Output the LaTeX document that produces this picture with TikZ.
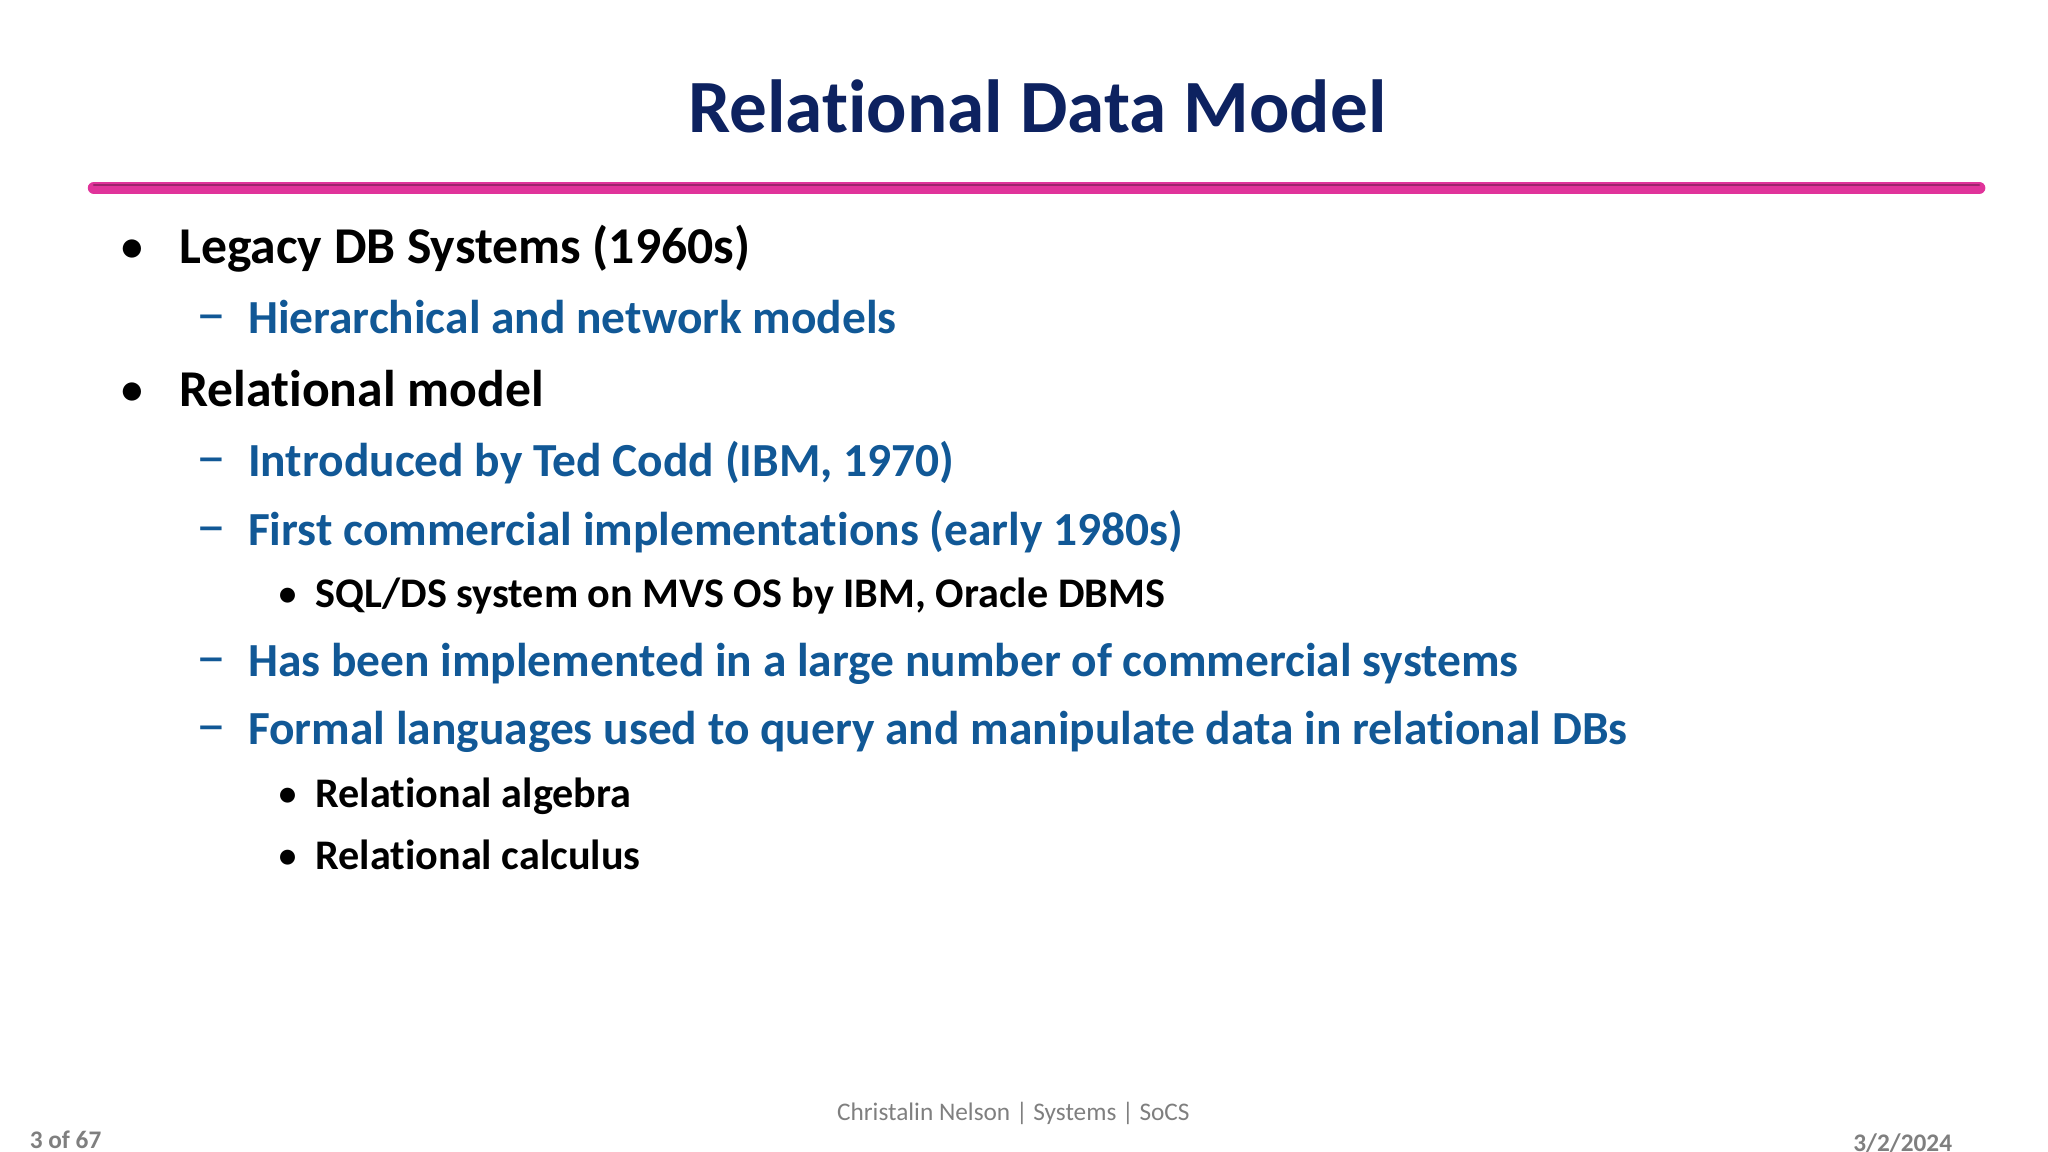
\documentclass[tikz,border=0pt]{standalone}
\usepackage{fontspec}
\setmainfont[RawFeature=-liga]{Carlito}
\definecolor{navy}{HTML}{0D2260}
\definecolor{lblue}{HTML}{115896}
\definecolor{pinkl}{HTML}{E0339A}
\definecolor{foot}{HTML}{7F7F7F}
\begin{document}
\begin{tikzpicture}[x=0.01323cm,y=-0.01323cm,
  lone/.style={anchor=base west,font=\fontsize{14.7}{18}\selectfont\bfseries,text=black,inner sep=0},
  bul/.style={anchor=base west,font=\fontsize{14.7}{18}\selectfont,text=black,inner sep=0},
  ltwo/.style={anchor=base west,font=\fontsize{13.5}{18}\selectfont\bfseries,text=lblue,inner sep=0},
  dsh/.style={anchor=base west,font=\fontsize{17}{18}\selectfont,text=lblue,inner sep=0},
  lthree/.style={anchor=base west,font=\fontsize{12}{14}\selectfont\bfseries,text=black,inner sep=0},
  bulthree/.style={anchor=base west,font=\fontsize{12}{14}\selectfont,text=black,inner sep=0},
  ftxt/.style={anchor=base,font=\fontsize{7.2}{9}\selectfont,text=foot,inner sep=0}]
\useasboundingbox (0,0) rectangle (1548,870.7);
\node[anchor=base,font=\fontsize{21.4}{26}\selectfont\bfseries,text=navy,inner sep=0] (title) at (784,100) {Relational Data Model};
\draw[line width=3.5pt,pinkl,line cap=round] (71,142) -- (1496,142);
\draw[line width=0.6pt,pinkl!70!black,line cap=round] (71,139.5) -- (1496,139.5);
\node[bul] (b1) at (90,199) {•};
\node[lone] (t1) at (135,199) {Legacy DB Systems (1960s)};
\node[dsh] (d1) at (148,252) {–};
\node[ltwo] (t2) at (187,252) {Hierarchical and network models};
\node[bul] (b2) at (90,307) {•};
\node[lone] (t3) at (135,307) {Relational model};
\node[dsh] (d2) at (148,360) {–};
\node[ltwo] (t4) at (187,360) {Introduced by Ted Codd (IBM, 1970)};
\node[dsh] (d3) at (148,412) {–};
\node[ltwo] (t5) at (187,412) {First commercial implementations (early 1980s)};
\node[bulthree] (b3) at (209,459) {•};
\node[lthree] (t6) at (238,459) {SQL/DS system on MVS OS by IBM, Oracle DBMS};
\node[dsh] (d4) at (148,511) {–};
\node[ltwo] (t7) at (187,511) {Has been implemented in a large number of commercial systems};
\node[dsh] (d5) at (148,563) {–};
\node[ltwo] (t8) at (187,563) {Formal languages used to query and manipulate data in relational DBs};
\node[bulthree] (b4) at (209,610) {•};
\node[lthree] (t9) at (238,610) {Relational algebra};
\node[bulthree] (b5) at (209,657) {•};
\node[lthree] (t10) at (238,657) {Relational calculus};
\node[ftxt] (f1) at (766,847) {Christalin Nelson | Systems | SoCS};
\node[ftxt,anchor=base west,font=\fontsize{7.2}{9}\selectfont\bfseries] (f2) at (22,868) {3 of 67};
\node[ftxt,anchor=base east,font=\fontsize{7.2}{9}\selectfont\bfseries] (f3) at (1476,870) {3/2/2024};
\end{tikzpicture}
\end{document}
